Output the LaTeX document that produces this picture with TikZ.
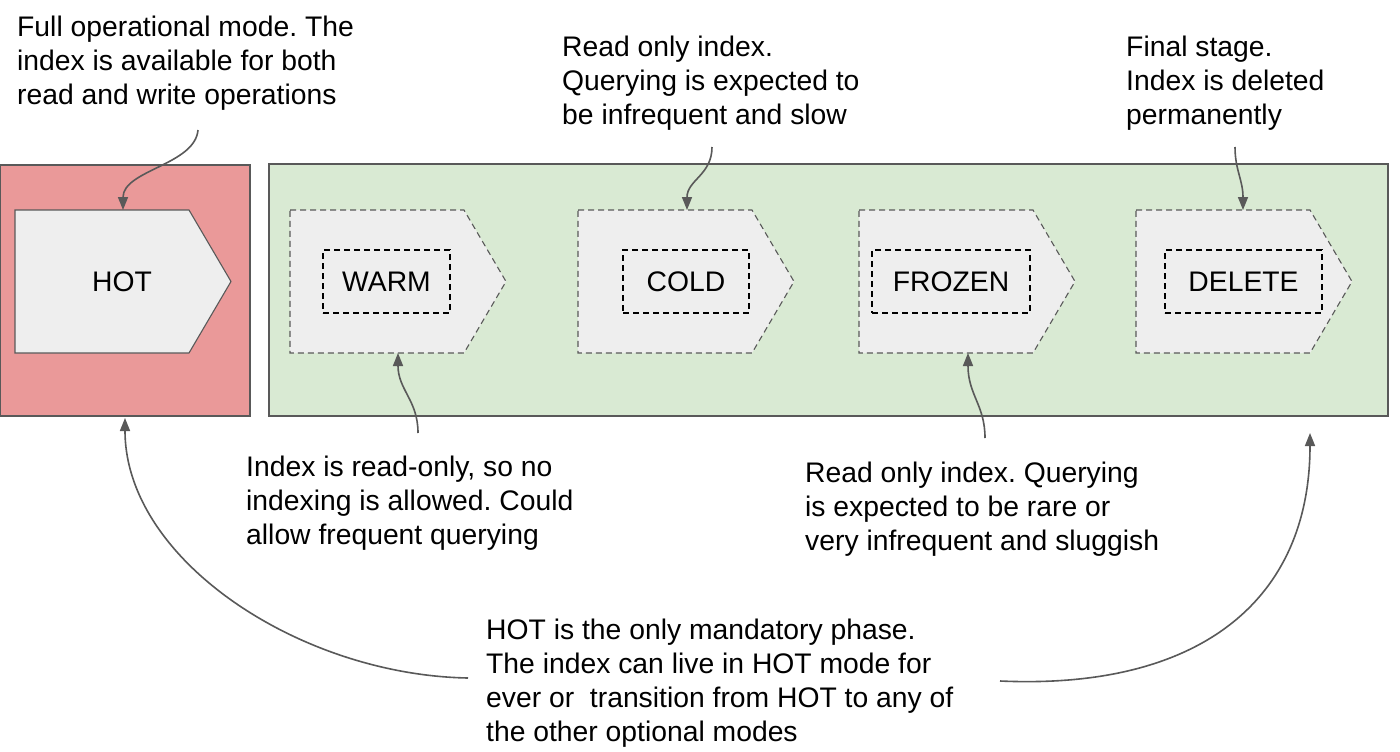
\documentclass[tikz,border=0pt]{standalone}
\usepackage{fontspec}
\setmainfont{Liberation Sans}
\usetikzlibrary{arrows.meta}
\definecolor{hotfill}{HTML}{EA9999}
\definecolor{restfill}{HTML}{D9EAD3}
\definecolor{shapefill}{HTML}{EEEEEE}
\definecolor{edgegray}{HTML}{595959}
\frenchspacing
\begin{document}
\begin{tikzpicture}[x=1pt,y=-1pt,
  font=\fontsize{28.3}{34}\selectfont,
  panel/.style={draw=edgegray, line width=1.5pt},
  phaseshape/.style={fill=shapefill, draw=edgegray, line width=1.1pt},
  dashedshape/.style={phaseshape, dash pattern=on 6pt off 4pt},
  labelbox/.style={draw=black, line width=1.8pt, dash pattern=on 6pt off 4pt,
    minimum height=63pt, inner sep=0pt},
  phaselabel/.style={inner sep=0pt},
  note/.style={align=left, anchor=base west, inner sep=0pt},
  callout/.style={draw=edgegray, line width=1.6pt, -{Triangle[length=13pt,width=10pt]}}
]
\useasboundingbox (0,0) rectangle (1400,752);
\fill[white] (0,0) rectangle (1400,752);

% panels
\draw[panel, fill=hotfill] (0,165) rectangle (250,416);
\draw[panel, fill=restfill] (269,164) rectangle (1388,416);

% phase shapes
\draw[phaseshape] (15,210) -- (189,210) -- (231,281.5) -- (189,353) -- (15,353) -- cycle;
\draw[dashedshape] (290,210) -- (464,210) -- (506,281.5) -- (464,353) -- (290,353) -- cycle;
\draw[dashedshape] (578,210) -- (752,210) -- (794,281.5) -- (752,353) -- (578,353) -- cycle;
\draw[dashedshape] (859,210) -- (1033,210) -- (1075,281.5) -- (1033,353) -- (859,353) -- cycle;
\draw[dashedshape] (1136,210) -- (1310,210) -- (1352,281.5) -- (1310,353) -- (1136,353) -- cycle;

% labels
\node[phaselabel] (hot) at (122,281.5) {HOT};
\node[labelbox, minimum width=127pt] (warm) at (386.5,281.5) {WARM};
\node[labelbox, minimum width=126pt] (cold) at (686,281.5) {COLD};
\node[labelbox, minimum width=158pt] (frozen) at (951,281.5) {FROZEN};
\node[labelbox, minimum width=157pt] (delete) at (1243.5,281.5) {DELETE};

% annotation texts (anchored at the baseline of their last line)
\node[note] (nhot) at (17,104) {Full operational mode. The\\index is available for both\\read and write operations};
\node[note] (ncold) at (562,124) {Read only index.\\Querying is expected to\\be infrequent and slow};
\node[note] (ndelete) at (1126,124) {Final stage.\\Index is deleted\\permanently};
\node[note] (nwarm) at (246,544) {Index is read-only, so no\\indexing is allowed. Could\\allow frequent querying};
\node[note] (nfrozen) at (805,550) {Read only index. Querying\\is expected to be rare or\\very infrequent and sluggish};
\node[note] (nmain) at (486,741) {HOT is the only mandatory phase.\\The index can live in HOT mode for\\ever or\ \ transition from HOT to any of\\the other optional modes};

% connector end points
\coordinate (hottail) at (198,130);
\coordinate (hottip) at (123,210);
\coordinate (warmtail) at (418,433);
\coordinate (warmtip) at (398,353);
\coordinate (coldtail) at (712,147);
\coordinate (coldtip) at (687,210);
\coordinate (frozentail) at (985,438);
\coordinate (frozentip) at (968,353);
\coordinate (deletetail) at (1235,147);
\coordinate (deletetip) at (1243,210);
\coordinate (mainleft) at (468,678);
\coordinate (hotpanel) at (125,418);
\coordinate (mainright) at (1000,681);
\coordinate (restpanel) at (1310,433);

% connectors
\draw[callout] (hottail) .. controls (195,165) and (123,170) .. (hottip);
\draw[callout] (warmtail) .. controls (418,400) and (398,390) .. (warmtip);
\draw[callout] (coldtail) .. controls (712,175) and (687,180) .. (coldtip);
\draw[callout] (frozentail) .. controls (985,405) and (968,395) .. (frozentip);
\draw[callout] (deletetail) .. controls (1235,170) and (1243,180) .. (deletetip);
\draw[callout] (mainleft) .. controls (300,675) and (125,560) .. (hotpanel);
\draw[callout] (mainright) .. controls (1200,690) and (1310,600) .. (restpanel);
\end{tikzpicture}
\end{document}
